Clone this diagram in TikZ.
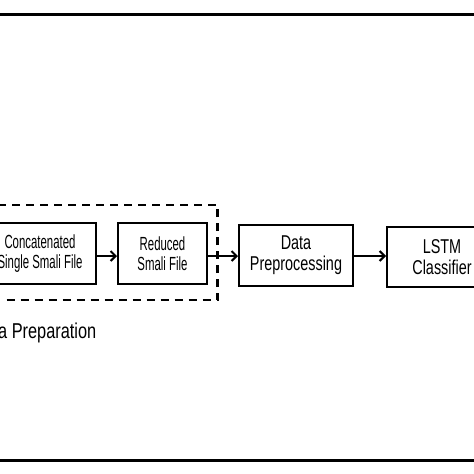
\documentclass[tikz,border=0pt]{standalone}
\usepackage{fontspec}
\setmainfont{Liberation Sans}
\newfontfamily\narrowS{Liberation Sans}[FakeStretch=0.6]
\newfontfamily\narrowL{Liberation Sans}[FakeStretch=0.72]
\newfontfamily\narrowT{Liberation Sans}[FakeStretch=0.76]
\usetikzlibrary{arrows.meta}
\begin{document}
\begin{tikzpicture}[x=1pt,y=-1pt,
  blk/.style={draw, line width=2pt, align=center, font=\narrowS\fontsize{19}{20.5}\selectfont, inner sep=0pt},
  bigblk/.style={blk, font=\narrowL\fontsize{20}{21}\selectfont},
  conn/.style={line width=2pt, -{Straight Barb[length=5pt,width=10pt,line width=2pt]}},
  frameline/.style={line width=3pt},
  prep/.style={draw, line width=2.2pt, dash pattern=on 8pt off 6pt}]
\useasboundingbox (0,0) rectangle (474,474);
\clip (0,0) rectangle (474,474);
\fill[white] (0,0) rectangle (474,474);
\coordinate (tl) at (-10,14);
\coordinate (tr) at (484,14);
\coordinate (bl) at (-10,460.5);
\coordinate (br) at (484,460.5);
\draw[frameline] (tl) -- (tr);
\draw[frameline] (bl) -- (br);
\node[prep, minimum width=253pt, minimum height=95pt] (dp) at (91,252.5) {};
\node[blk, minimum width=112pt, minimum height=61pt] (cat) at (40,253.5) {Concatenated\\Single Smali File};
\node[blk, minimum width=89pt, minimum height=61pt] (red) at (162.5,253.5) {Reduced\\Smali File};
\node[bigblk, minimum width=114pt, minimum height=61pt] (pre) at (296,255.5) {Data\\Preprocessing};
\node[bigblk, minimum width=110pt, minimum height=60pt] (lstm) at (442,257) {LSTM\\Classifier};
\node[font=\narrowT\fontsize{21.5}{24}\selectfont, anchor=base east, inner sep=0pt] (lbl) at (96.5,338) {Data Preparation};
\draw[conn] (cat.east |- 0,256) -- (red.west |- 0,256);
\draw[conn] (red.east |- 0,256) -- (pre.west |- 0,256);
\draw[conn] (pre.east |- 0,256) -- (lstm.west |- 0,256);
\end{tikzpicture}
\end{document}
